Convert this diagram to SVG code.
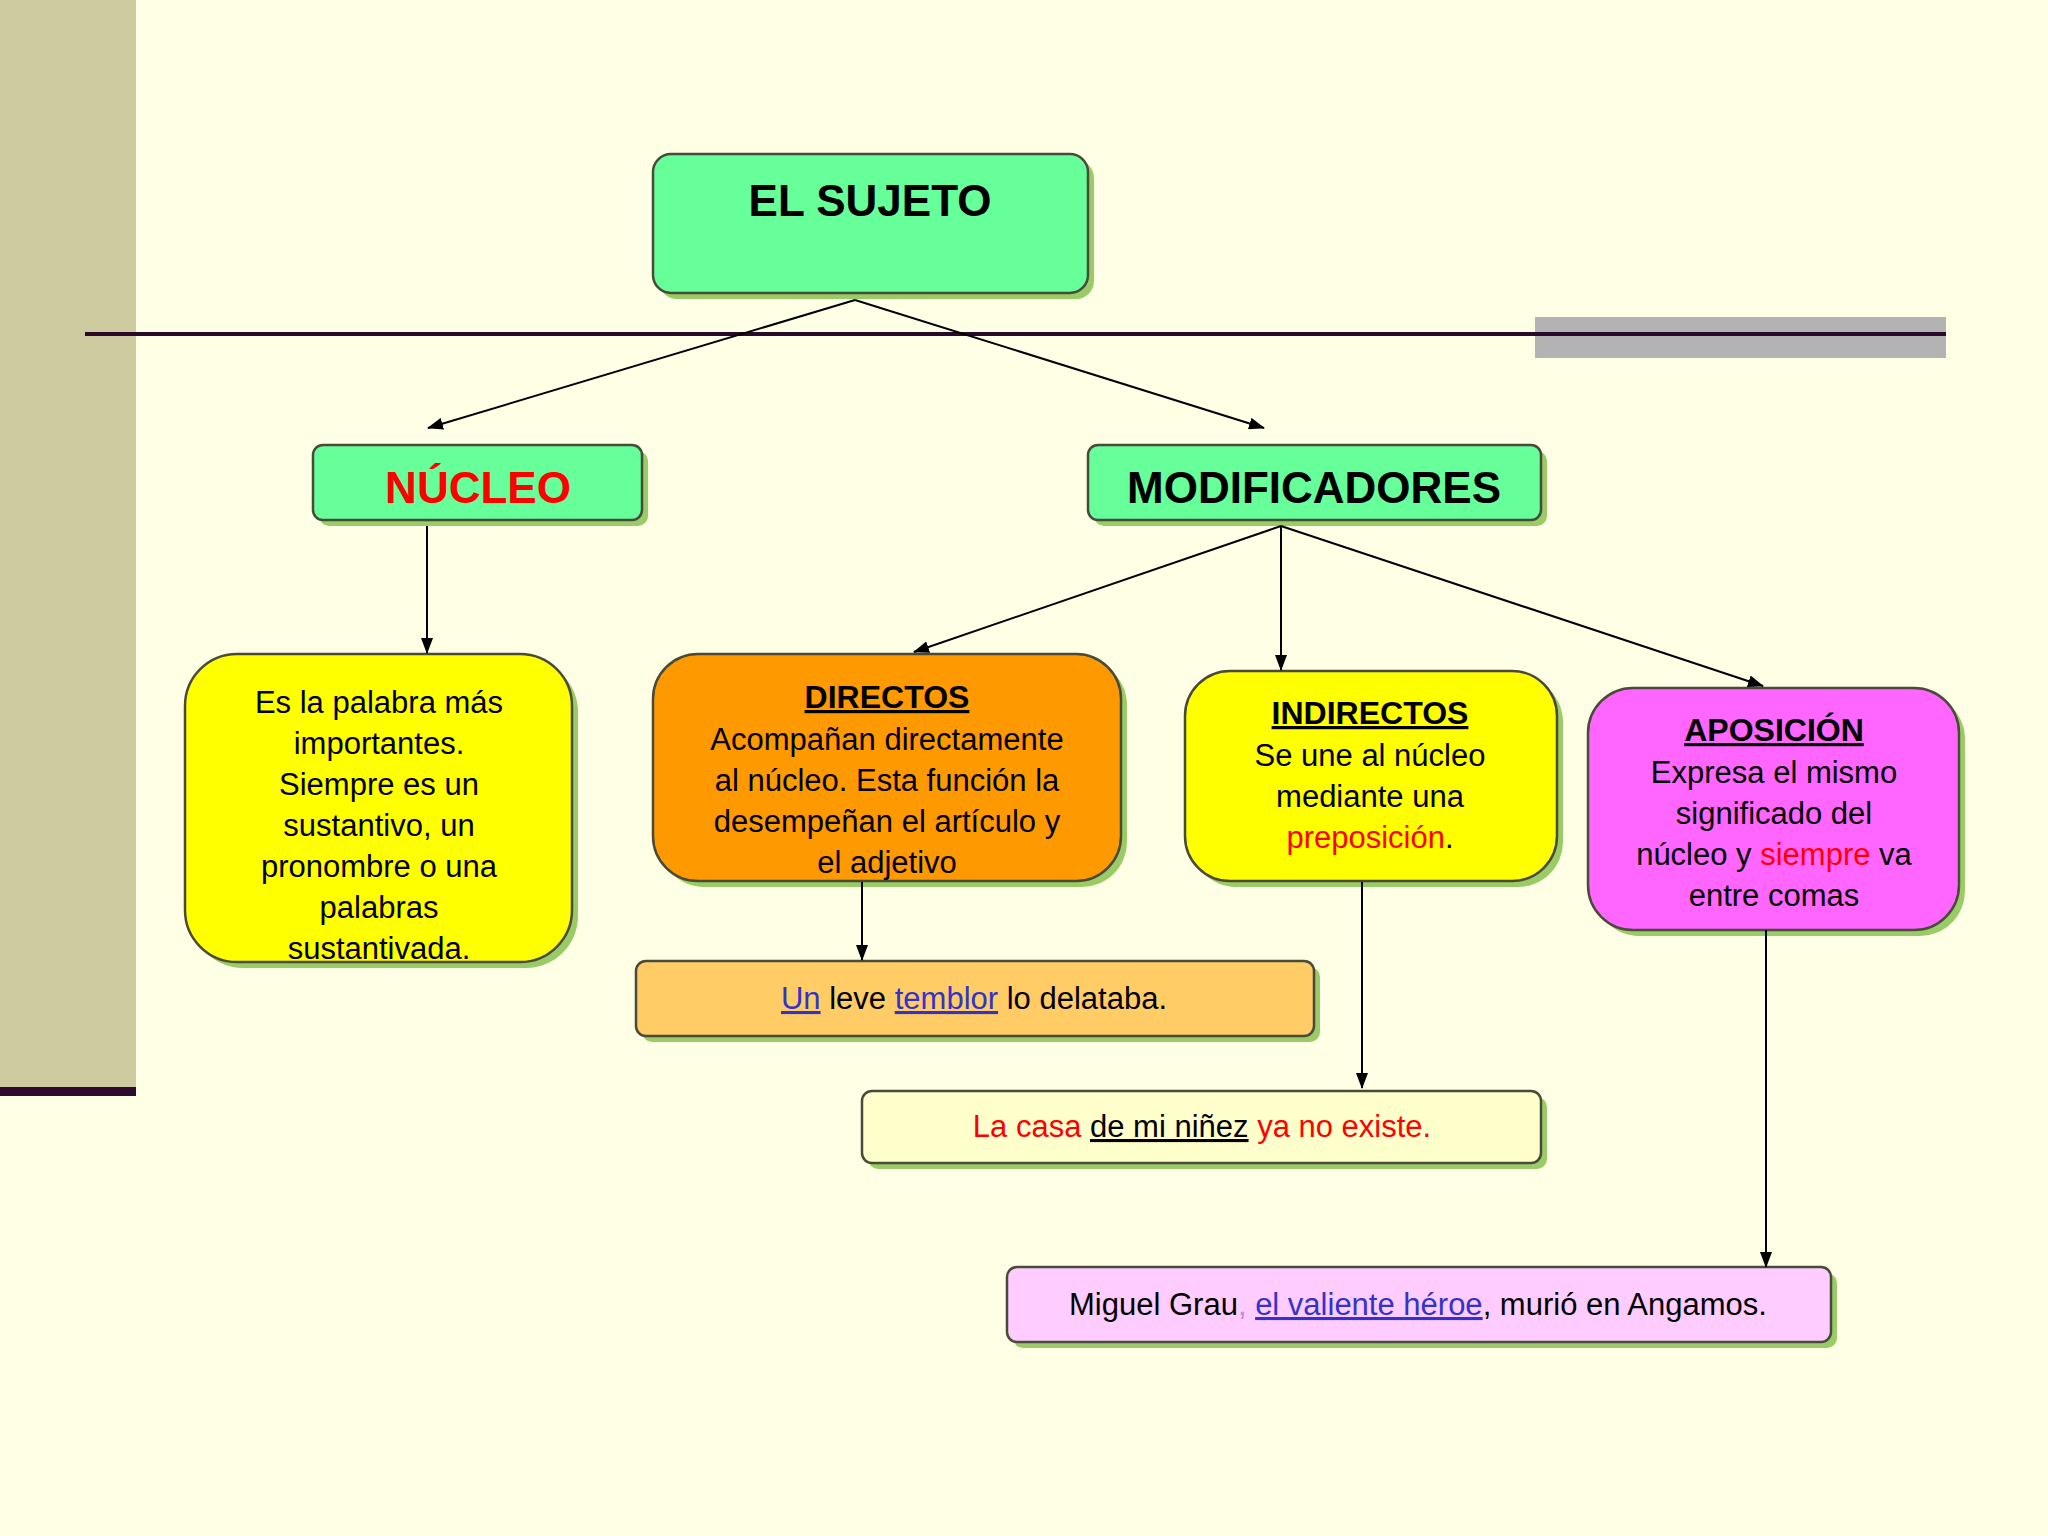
<svg xmlns="http://www.w3.org/2000/svg" width="2048" height="1536" viewBox="0 0 2048 1536">
<defs>
<marker id="ar" viewBox="0 0 10 10" refX="9" refY="5" markerWidth="8" markerHeight="8" orient="auto" markerUnits="userSpaceOnUse"><path d="M0,0 L10,5 L0,10 z" fill="#000" transform="scale(1.6) translate(-4,-2)"/></marker>
<marker id="a" viewBox="0 0 16 12" refX="15" refY="6" markerWidth="16" markerHeight="12" orient="auto" markerUnits="userSpaceOnUse"><path d="M0,0 L16,6 L0,12 z" fill="#000"/></marker>
</defs>
<style>
.b{stroke:#4a4a3a;stroke-width:2.5}
.sh{fill:#99cc66}
text{font-family:"Liberation Sans",Arial,sans-serif;text-anchor:middle;fill:#000}
.t{font-size:31px}
.h{font-size:44px;font-weight:bold}
.s{font-size:32px;font-weight:bold;text-decoration:underline}
.c line{stroke:#000;stroke-width:2;marker-end:url(#a)}
.u{text-decoration:underline}
</style>
<rect width="2048" height="1536" fill="#ffffe5"/>
<rect x="0" y="0" width="136" height="1090" fill="#cdcb9f"/>
<rect x="0" y="1087" width="136" height="9" fill="#2e0a2e"/>
<rect x="1535" y="317" width="411" height="41" fill="#b3b3b3"/>
<rect x="85" y="332" width="1861" height="4" fill="#2a0a2a"/>

<g id="sujeto"><rect class="sh" x="659" y="160" width="435" height="139" rx="18"/><rect class="b" x="653" y="154" width="435" height="139" rx="18" fill="#66ff99"/><text class="h" x="870" y="216">EL SUJETO</text></g>
<g id="nucleo"><rect class="sh" x="319" y="451" width="329" height="75" rx="10"/><rect class="b" x="313" y="445" width="329" height="75" rx="10" fill="#66ff99"/><text class="h" x="478" y="503" fill="#ff0000" style="fill:#ff0000">NÚCLEO</text></g>
<g id="modificadores"><rect class="sh" x="1094" y="451" width="453" height="75" rx="10"/><rect class="b" x="1088" y="445" width="453" height="75" rx="10" fill="#66ff99"/><text class="h" x="1314" y="503">MODIFICADORES</text></g>
<g id="def"><rect class="sh" x="191" y="660" width="387" height="308" rx="52"/><rect class="b" x="185" y="654" width="387" height="308" rx="52" fill="#ffff00"/>
<text class="t"><tspan x="379" y="713">Es la palabra más</tspan><tspan x="379" y="754">importantes.</tspan><tspan x="379" y="795">Siempre es un</tspan><tspan x="379" y="836">sustantivo, un</tspan><tspan x="379" y="877">pronombre o una</tspan><tspan x="379" y="918">palabras</tspan><tspan x="379" y="959">sustantivada.</tspan></text></g>
<g id="directos"><rect class="sh" x="659" y="660" width="468" height="227" rx="45"/><rect class="b" x="653" y="654" width="468" height="227" rx="45" fill="#ff9900"/>
<text class="s" x="887" y="708">DIRECTOS</text>
<text class="t"><tspan x="887" y="750">Acompañan directamente</tspan><tspan x="887" y="791">al núcleo. Esta función la</tspan><tspan x="887" y="832">desempeñan el artículo y</tspan><tspan x="887" y="873">el adjetivo</tspan></text></g>
<g id="ej1"><rect class="sh" x="642" y="967" width="678" height="75" rx="10"/><rect class="b" x="636" y="961" width="678" height="75" rx="10" fill="#ffcc66"/>
<text class="t" x="974" y="1009"><tspan class="u" fill="#3333cc" style="fill:#3333cc">Un</tspan>  leve <tspan class="u" style="fill:#3333cc">temblor</tspan> lo delataba.</text></g>
<g id="indirectos"><rect class="sh" x="1191" y="677" width="372" height="210" rx="45"/><rect class="b" x="1185" y="671" width="372" height="210" rx="45" fill="#ffff00"/>
<text class="s" x="1370" y="724">INDIRECTOS</text>
<text class="t"><tspan x="1370" y="766">Se une al núcleo</tspan><tspan x="1370" y="807">mediante una</tspan><tspan x="1370" y="848"><tspan style="fill:#ff0000">preposición</tspan>.</tspan></text></g>
<g id="ej2"><rect class="sh" x="868" y="1097" width="679" height="72" rx="10"/><rect class="b" x="862" y="1091" width="679" height="72" rx="10" fill="#ffffcc"/>
<text class="t" x="1202" y="1137"><tspan style="fill:#ff0000">La casa </tspan><tspan class="u">de mi niñez</tspan><tspan style="fill:#ff0000"> ya no existe.</tspan></text></g>
<g id="aposicion"><rect class="sh" x="1594" y="694" width="371" height="242" rx="45"/><rect class="b" x="1588" y="688" width="371" height="242" rx="45" fill="#ff66ff"/>
<text class="s" x="1774" y="741">APOSICIÓN</text>
<text class="t"><tspan x="1774" y="783">Expresa el mismo</tspan><tspan x="1774" y="824">significado del</tspan><tspan x="1774" y="865">núcleo y <tspan style="fill:#ff0000">siempre</tspan> va</tspan><tspan x="1774" y="906">entre comas</tspan></text></g>
<g id="ej3"><rect class="sh" x="1013" y="1273" width="824" height="75" rx="10"/><rect class="b" x="1007" y="1267" width="824" height="75" rx="10" fill="#ffccff"/>
<text class="t" x="1418" y="1315">Miguel Grau<tspan style="fill:#cc88cc">, </tspan><tspan class="u" style="fill:#3333cc">el valiente héroe</tspan>, murió en Angamos.</text></g>

<g id="connectors" class="c">
<line x1="855" y1="300" x2="428" y2="428"/>
<line x1="855" y1="300" x2="1264" y2="428"/>
<line x1="427" y1="526" x2="427" y2="653"/>
<line x1="1281" y1="526" x2="914" y2="652"/>
<line x1="1281" y1="526" x2="1281" y2="670"/>
<line x1="1281" y1="526" x2="1763" y2="686"/>
<line x1="862" y1="882" x2="862" y2="960"/>
<line x1="1362" y1="882" x2="1362" y2="1088"/>
<line x1="1766" y1="930" x2="1766" y2="1267"/>
</g>
</svg>
